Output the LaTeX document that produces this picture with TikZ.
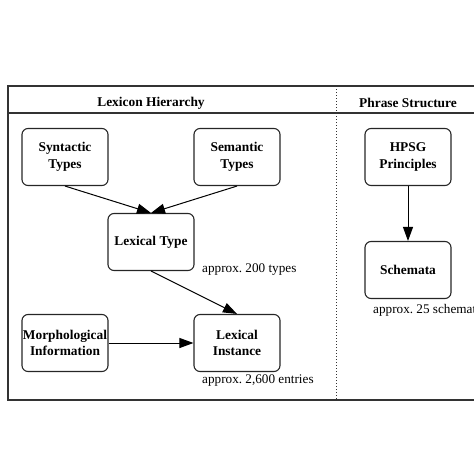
\documentclass[tikz,border=0pt]{standalone}
\usepackage{fontspec}
\setmainfont{Liberation Serif}
\usepackage{tikz}
\usetikzlibrary{arrows.meta,positioning}
\frenchspacing

\tikzset{
  box/.style={draw=black!85,line width=1.1pt,rounded corners=6pt,minimum width=86pt,minimum height=57pt,align=center,font=\fontsize{13.4}{16.5}\selectfont\bfseries,inner sep=0pt},
  note/.style={font=\fontsize{13.2}{15}\selectfont,anchor=west,inner sep=0pt},
  head/.style={font=\fontsize{13.4}{15}\selectfont\bfseries,inner sep=0pt},
  link/.style={draw=black,line width=1pt,-{Triangle[length=14pt,width=10pt]}}
}

\begin{document}
\begin{tikzpicture}[x=1pt,y=-1pt]
                    \useasboundingbox (0,0) rectangle (474,474);
                    \clip (0,0) rectangle (474,474);
                    % frame
                    \draw[black!80,line width=1.1pt] (474,86) -- (8,86) -- (8,400) -- (474,400);
                    \draw[black!80,line width=1.1pt] (8,113) -- (474,113);
                    \draw[black!80,line width=1pt,dotted] (336,86) -- (336,400);
                    \node[head] (hlex) at (151,103) {Lexicon Hierarchy};
                    \node[head] (hphr) at (408,103) {Phrase Structure};

                    % lexicon side
                    \node[box] (syn) at (65,157) {Syntactic\\Types};
                    \node[box] (sem) at (237,157) {Semantic\\Types};
                    \node[box] (lextype) at (151,242) {Lexical Type};
                    \node[box] (morph) at (65,343) {Morphological\\Information};
                    \node[box] (lexinst) at (237,343) {Lexical\\Instance};
                    \node[note] (ntype) at (202,270) {approx. 200 types};
                    \node[note] (nentry) at (202,381) {approx. 2,600 entries};

                    \draw[link] (syn.south) -- (lextype.north);
                    \draw[link] (sem.south) -- (lextype.north);
                    \draw[link] (lextype.south) -- (lexinst.north);
                    \draw[link] (morph.east) -- (lexinst.west);

                    % phrase side
                    \node[box] (hpsg) at (408,157) {HPSG\\Principles};
                    \node[box] (schema) at (408,270) {Schemata};
                    \node[note] (nschema) at (373,310) {approx. 25 schemata};

                    \draw[link] (hpsg.south) -- (schema.north);
                \end{tikzpicture}
\end{document}
